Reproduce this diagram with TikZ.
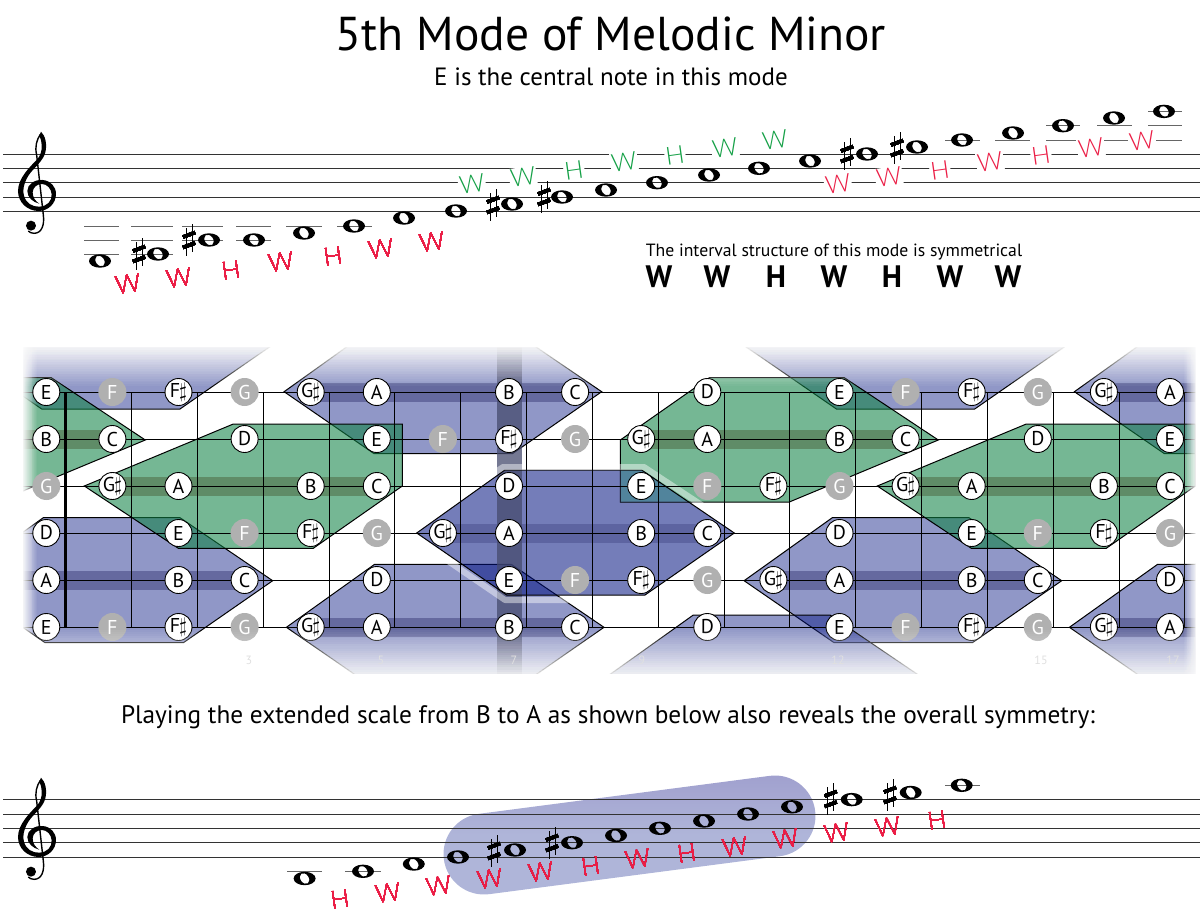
\documentclass[tikz,border=0pt]{standalone}
\usepackage{fontspec}
\setmainfont{PT Sans}
\newfontfamily\stepfont[UprightFont={* Light}]{Lato}
\usepackage{amsmath,amssymb}
\usetikzlibrary{calc}

\definecolor{bluehue}{RGB}{2,18,128}
\definecolor{greenhue}{RGB}{17,131,70}
\definecolor{bandblue}{RGB}{0,0,66}
\definecolor{bandgreen}{RGB}{47,40,0}
\definecolor{fretband}{RGB}{70,75,110}
\definecolor{ghostgrey}{RGB}{176,176,176}
\definecolor{stepred}{RGB}{235,30,70}
\definecolor{stepgreen}{RGB}{20,160,70}
\definecolor{pilltop}{RGB}{160,160,206}
\definecolor{pillbot}{RGB}{175,181,217}
\definecolor{overlaptint}{RGB}{120,140,220}

\tikzset{
  stud/.style={circle,draw=black,fill=white,line width=0.9pt,minimum size=27pt,inner sep=0pt,font=\fontsize{20}{20}\selectfont},
  ghost/.style={circle,fill=ghostgrey,text=white,minimum size=28pt,inner sep=0pt,font=\fontsize{20}{20}\selectfont},
  bluehex/.style={fill=bluehue,fill opacity=0.44,draw=black,line width=1pt},
  greenhex/.style={fill=greenhue,fill opacity=0.58,draw=black,line width=1pt},
  steplabel/.style={font=\stepfont\fontsize{25}{25}\selectfont,inner sep=1pt,rotate=8},
  redstep/.style={steplabel,text=stepred},
  greenstep/.style={steplabel,text=stepgreen,fill=white},
  fretno/.style={text=black!12,font=\fontsize{12}{12}\selectfont,inner sep=0pt},
  stafflines/.style={line width=0.9pt,black!80},
  ledger/.style={line width=0.9pt,black!60},
  boldstep/.style={font=\fontsize{31}{31}\selectfont\bfseries,inner sep=0pt,anchor=base}
}

% whole note with an open hole
\newcommand{\wholenote}[2]{\fill[even odd rule] (#1,#2) ellipse [x radius=11,y radius=6.7]
  (#1,#2) ellipse [x radius=4.2,y radius=5.8,rotate=35];}
% sharp sign beside a note
\newcommand{\sharpmark}[2]{
  \draw[line width=0.9pt] (#1-3,#2-12) -- (#1-3,#2+16);
  \draw[line width=0.9pt] (#1+3,#2-16) -- (#1+3,#2+12);
  \draw[line width=3.4pt] (#1-6,#2-3) -- (#1+6,#2-7.5);
  \draw[line width=3.4pt] (#1-6,#2+7.5) -- (#1+6,#2+3);
}
% treble clef, drawn in thirds of a unit
\newcommand{\trebleclef}[2]{
  \begin{scope}[shift={(#1,#2)},x=0.3333pt,y=-0.3333pt]
    \fill (93,20) .. controls (106,32) and (112,58) .. (106,82)
      .. controls (100,108) and (70,130) .. (58,148)
      .. controls (46,165) and (36,190) .. (42,212)
      .. controls (48,235) and (68,246) .. (88,245)
      .. controls (112,244) and (126,228) .. (125,208)
      .. controls (124,190) and (110,177) .. (96,177)
      .. controls (80,177) and (68,188) .. (68,203)
      .. controls (68,218) and (78,230) .. (88,236)
      .. controls (70,232) and (52,218) .. (52,198)
      .. controls (52,178) and (74,163) .. (98,165)
      .. controls (122,167) and (138,185) .. (138,207)
      .. controls (138,236) and (114,258) .. (86,258)
      .. controls (52,258) and (24,232) .. (24,198)
      .. controls (24,160) and (60,125) .. (80,105)
      .. controls (90,94) and (97,78) .. (95,60)
      .. controls (94,48) and (92,38) .. (88,32) -- cycle;
    \draw[line width=1.4pt] (91,28) .. controls (80,45) and (74,65) .. (80,90)
      -- (100,270) .. controls (104,300) and (95,325) .. (72,325)
      .. controls (65,325) and (58,322) .. (55,318);
    \fill (63,302) circle [radius=15];
  \end{scope}
}
% the six-sided boxes, given by their right tip
\newcommand{\hexat}[2]{(#1,#2) -- (#1-92.7,#2-63) -- (#1-229.4,#2-63) -- (#1-317.6,#2) -- (#1-227.6,#2+62) -- (#1-89.3,#2+62) -- cycle}
\newcommand{\greenleft}[1]{(84.3+#1,486) -- (233.3+#1,424) -- (402.3+#1,424) -- (402.3+#1,486) -- (313.3+#1,548.3) -- (178.3+#1,548.3) -- cycle}
\newcommand{\greenright}[1]{(938.3+#1,440) -- (789.3+#1,502) -- (620.3+#1,502) -- (620.3+#1,440) -- (709.3+#1,377.7) -- (844.3+#1,377.7) -- cycle}
\newcommand{\sh}{\kern-1pt$\sharp$}

\begin{document}
\begin{tikzpicture}[x=1pt,y=-1pt]
  \useasboundingbox (0,0) rectangle (1200,913);

  % Headings
  \node[anchor=base,font=\fontsize{47.5}{47.5}\selectfont,inner sep=0pt] (title) at (611,50) {5th Mode of Melodic Minor};
  \node[anchor=base,font=\fontsize{25}{25}\selectfont,inner sep=0pt] (subtitle) at (611,85) {E is the central note in this mode};
  \node[anchor=base,font=\fontsize{17.7}{17.7}\selectfont,inner sep=0pt] (symtext) at (834,256) {The interval structure of this mode is symmetrical};
  \foreach \x/\t [count=\i] in {659/W,717/W,776/H,834/W,892/H,950/W,1008/W}
    \node[boldstep] (bold\i) at (\x,287) {\t};
  \node[anchor=base,font=\fontsize{25.3}{25.3}\selectfont,inner sep=0pt] (playtext) at (608,723) {Playing the extended scale from B to A as shown below also reveals the overall symmetry:};

  % Upper staff
  \foreach \y in {154,168.3,182.7,197,211.3}
    \draw[stafflines] (3,\y) -- (1200,\y);
  \trebleclef{10}{125}
  % Ledger lines
  \foreach \xa/\xb/\y in {84/119/226,84/119/240,84/119/254.3,131/173/226,131/173/240,131/173/254.3,
    182/223/226,182/223/240,236/271/226,236/271/240,286/322/226,337/372/226,
    945/980/140,995/1030/140,1046/1080/140,1046/1080/125.7,1097/1132/140,1097/1132/125.7,
    1148/1182/140,1148/1182/125.7,1148/1182/111.4}
    \draw[ledger] (\xa,\y) -- (\xb,\y);
  % Notes
  \foreach \x/\y in {100/261,158/254,209/240,254/240,304/233,354/226,404/218,456/211,512/204,562/197,
    606/190,657/182.7,709/175,759/168.3,810/161,867/154,917/147,962/140,1013/133,1063/125.7,1114/118,1164/111.4}
    \wholenote{\x}{\y}
  \foreach \x/\y in {139/254,189/240,493/205,544/197,847/154,897/148}
    \sharpmark{\x}{\y}
  % Steps along the upper staff
  \foreach \x/\y/\t [count=\i] in {128/284/W,179/278/W,231/270/H,281/262/W,333/256/H,381/249/W,432/242/W}
    \node[redstep] (low\i) at (\x,\y) {\t};
  \foreach \x/\y/\t [count=\i] in {472/184/W,523/177/W,574/170/H,624/162/W,675/155/H,725/148/W,775/140/W}
    \node[greenstep] (mid\i) at (\x,\y) {\t};
  \foreach \x/\y/\t [count=\i] in {838/184/W,889/177/W,940/170/H,990/162/W,1041/155/H,1091/148/W,1142/141/W}
    \node[redstep,fill=white] (top\i) at (\x,\y) {\t};

  % Fretboard boxes
  \begin{scope}
    \clip (23,347) rectangle (1196,673);
    \foreach \hx/\hy in {269.3/347,1064/347,601.7/391.7,1392/391.7,272.7/580.7,1061.7/580.7,604/627.3,922.7/678,1387/627.3}
      \draw[bluehex] \hexat{\hx}{\hy};
    % Darker rows, blue
    \foreach \xa/\xb/\y in {311/574/392,1103/1197/392,22/244/580,772/1037/580,311/574/627,1103/1197/627}
      \fill[bandblue,opacity=0.3] (\xa,\y-9.5) rectangle (\xb,\y+9.5);
    % Central box goes under the green ones
    \fill[bluehue,opacity=0.55] \hexat{734.3}{533};
    \fill[bandblue,opacity=0.2] (443,523.5) rectangle (707,542.5);
    \draw[greenhex] \greenleft{0};
    \draw[greenhex] \greenleft{793};
    \draw[greenhex] \greenright{0};
    \draw[greenhex] \greenright{-793};
    \fill[overlaptint,opacity=0.38] (620.3,470) -- (641.7,470) -- (688.7,502) -- (620.3,502) -- cycle;
    % Darker rows, green
    \foreach \xa/\xb/\y in {22/111/439,111/377/486,640/904/439,904/1170/486}
      \fill[bandgreen,opacity=0.3] (\xa,\y-9.5) rectangle (\xb,\y+9.5);
    % Seventh fret
    \fill[fretband,opacity=0.75] (497,345) rectangle (521.7,675);
    \draw[line width=1pt] \hexat{734.3}{533};
    % Pale edge round the central box
    \draw[white,opacity=0.45,line width=6pt,line join=round] (407,533) -- (503,467) -- (644,467) -- (744,533) -- (647,600) -- (505,600) -- cycle;
    % Fade, top
    \foreach \i [evaluate=\i as \o using 1/\i] in {1,...,24}
      \fill[white,opacity=\o] (22,345) rectangle (1197,345+\i*1.7);
  \end{scope}

  % Frets and strings
  \foreach \k in {1,...,17}
    \draw[line width=1pt] (65.7+65.84*\k,392) -- (65.7+65.84*\k,627);
  \draw[line width=3.2pt] (65.7,392) -- (65.7,627);
  \foreach \y in {392,439,486,533,580,627}
    \draw[line width=1pt] (22,\y) -- (1197,\y);

  % Fade, left and right
  \foreach \i [evaluate=\i as \o using 1/\i] in {1,...,16} {
    \fill[white,opacity=\o] (22,345) rectangle (22+\i*0.95,675);
    \fill[white,opacity=\o] (1197,345) rectangle (1197-\i*0.8,675);
  }

  % Notes on the strings
  \foreach \p/\t/\st in {0/E/stud,1/F/ghost,2/F\sh/stud,3/G/ghost,4/G\sh/stud,5/A/stud,7/B/stud,8/C/stud,10/D/stud,12/E/stud,13/F/ghost,14/F\sh/stud,15/G/ghost,16/G\sh/stud,17/A/stud}
    \node[\st] (one\p) at (46.3+66.1*\p,392) {\t};
  \foreach \p/\t/\st in {0/B/stud,1/C/stud,3/D/stud,5/E/stud,6/F/ghost,7/F\sh/stud,8/G/ghost,9/G\sh/stud,10/A/stud,12/B/stud,13/C/stud,15/D/stud,17/E/stud}
    \node[\st] (two\p) at (46.3+66.1*\p,439) {\t};
  \foreach \p/\t/\st in {0/G/ghost,1/G\sh/stud,2/A/stud,4/B/stud,5/C/stud,7/D/stud,9/E/stud,10/F/ghost,11/F\sh/stud,12/G/ghost,13/G\sh/stud,14/A/stud,16/B/stud,17/C/stud}
    \node[\st] (three\p) at (46.3+66.1*\p,486) {\t};
  \foreach \p/\t/\st in {0/D/stud,2/E/stud,3/F/ghost,4/F\sh/stud,5/G/ghost,6/G\sh/stud,7/A/stud,9/B/stud,10/C/stud,12/D/stud,14/E/stud,15/F/ghost,16/F\sh/stud,17/G/ghost}
    \node[\st] (four\p) at (46.3+66.1*\p,533) {\t};
  \foreach \p/\t/\st in {0/A/stud,2/B/stud,3/C/stud,5/D/stud,7/E/stud,8/F/ghost,9/F\sh/stud,10/G/ghost,11/G\sh/stud,12/A/stud,14/B/stud,15/C/stud,17/D/stud}
    \node[\st] (five\p) at (46.3+66.1*\p,580) {\t};
  \foreach \p/\t/\st in {0/E/stud,1/F/ghost,2/F\sh/stud,3/G/ghost,4/G\sh/stud,5/A/stud,7/B/stud,8/C/stud,10/D/stud,12/E/stud,13/F/ghost,14/F\sh/stud,15/G/ghost,16/G\sh/stud,17/A/stud}
    \node[\st] (six\p) at (46.3+66.1*\p,627) {\t};

  % Fade, bottom
  \begin{scope}
    \clip (22,345) rectangle (1197,680);
    \foreach \i [evaluate=\i as \o using 1/\i] in {1,...,24}
      \fill[white,opacity=\o] (22,680) rectangle (1197,680-\i*2.1);
  \end{scope}

  % Fret numbers
  \foreach \x/\t in {249/3,381/5,514/7,642/9,838/12,1041/15,1173/17}
    \node[fretno] (mark\t) at (\x,660) {\t};

  % Lower staff
  \shade[top color=pilltop,bottom color=pillbot,middle color=pillbot]
    (484,854) ++(-97.4:40.5) -- ($(775,816)+(-97.4:40.5)$)
    arc [start angle=-97.4,end angle=82.6,radius=40.5]
    -- ($(484,854)+(82.6:40.5)$)
    arc [start angle=82.6,end angle=262.6,radius=40.5] -- cycle;
  \foreach \y in {799.6,814,828.3,842.7,857}
    \draw[stafflines] (3,\y) -- (1200,\y);
  \trebleclef{10}{771}
  \foreach \xa/\xb/\y in {287/322/871.3,345/381/871.3,945/980/785.3}
    \draw[ledger] (\xa,\y) -- (\xb,\y);
  \foreach \x/\y in {304.6/878.5,363/871.3,413.8/864,458/857,515/850,572/842.7,616/835.5,660/828.3,704/821,748/814,792/806.8,851.7/799.6,910.7/792.5,961.7/785.3}
    \wholenote{\x}{\y}
  \foreach \x/\y in {494/851,552/843,830.7/799,890/795}
    \sharpmark{\x}{\y}
  \foreach \x/\y/\t [count=\i] in {340/899/H,388/892.7/W,438.7/886/W,490/879/W,541/872/W,590.8/866/H,637.7/859/W,686.7/853/H,735/846.7/W,785.7/839/W,836.7/832.7/W,887.7/826.7/W,937/820.7/H}
    \node[redstep] (end\i) at (\x,\y) {\t};
\end{tikzpicture}
\end{document}
